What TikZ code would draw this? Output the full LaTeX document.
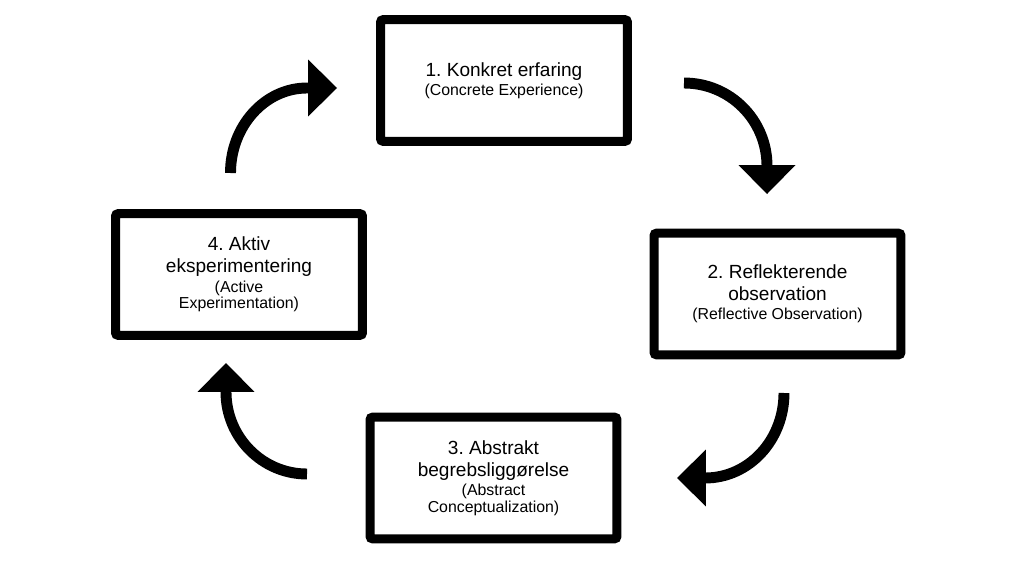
\documentclass[tikz,border=0pt]{standalone}
\usepackage{fontspec}
\setmainfont{Liberation Sans}
\usepackage{tikz}
\usetikzlibrary{arrows.meta}
\frenchspacing
\newcommand{\eng}[1]{{\fontsize{9pt}{9.5pt}\selectfont #1}}

\begin{document}
\begin{tikzpicture}[x=0.5669pt, y=-0.5669pt,
    stage/.style={rectangle, draw, line width=5.1pt, rounded corners=1.5pt, minimum width=140pt, minimum height=69pt, align=center, font=\fontsize{10.8pt}{12.5pt}\selectfont},
    cyc/.style={line width=6.2pt, -{Triangle[length=16.4pt, width=32.3pt, line width=0pt]}}]
    \useasboundingbox (0,0) rectangle (1024,576);
    \node[stage] (K1) at (504,80.5)   {1. Konkret erfaring\\[-1.5pt]\eng{(Concrete Experience)}};
    \node[stage] (R2) at (777.5,294)  {2. Reflekterende\\observation\\[-1.5pt]\eng{(Reflective Observation)}};
    \node[stage] (A3) at (493.5,478)  {3. Abstrakt\\begrebsliggørelse\\[-1.5pt]\eng{(Abstract}\\[-3pt]\eng{Conceptualization)}};
    \node[stage] (E4) at (239,274.5)  {4. Aktiv\\eksperimentering\\[-1.5pt]\eng{(Active}\\[-3pt]\eng{Experimentation)}};
    % ends of the curved arrows
    \coordinate (s12) at (684,83);    \coordinate (b12) at (767,166); \coordinate (t12) at (767,194);
    \coordinate (s23) at (784,393);   \coordinate (b23) at (705,478); \coordinate (t23) at (677,478);
    \coordinate (s34) at (307,474);   \coordinate (b34) at (226,392); \coordinate (t34) at (226,363);
    \coordinate (s41) at (230.5,173); \coordinate (b41) at (307,88);  \coordinate (t41) at (337,88);
    \draw[cyc] (s12) .. controls +(46,0) and +(0,-46) .. (b12) -- (t12);
    \draw[cyc] (s23) .. controls +(0,47) and +(44,0) .. (b23) -- (t23);
    \draw[cyc] (s34) .. controls +(-45,0) and +(0,45) .. (b34) -- (t34);
    \draw[cyc] (s41) .. controls +(0,-47) and +(-42,0) .. (b41) -- (t41);
\end{tikzpicture}
\end{document}
